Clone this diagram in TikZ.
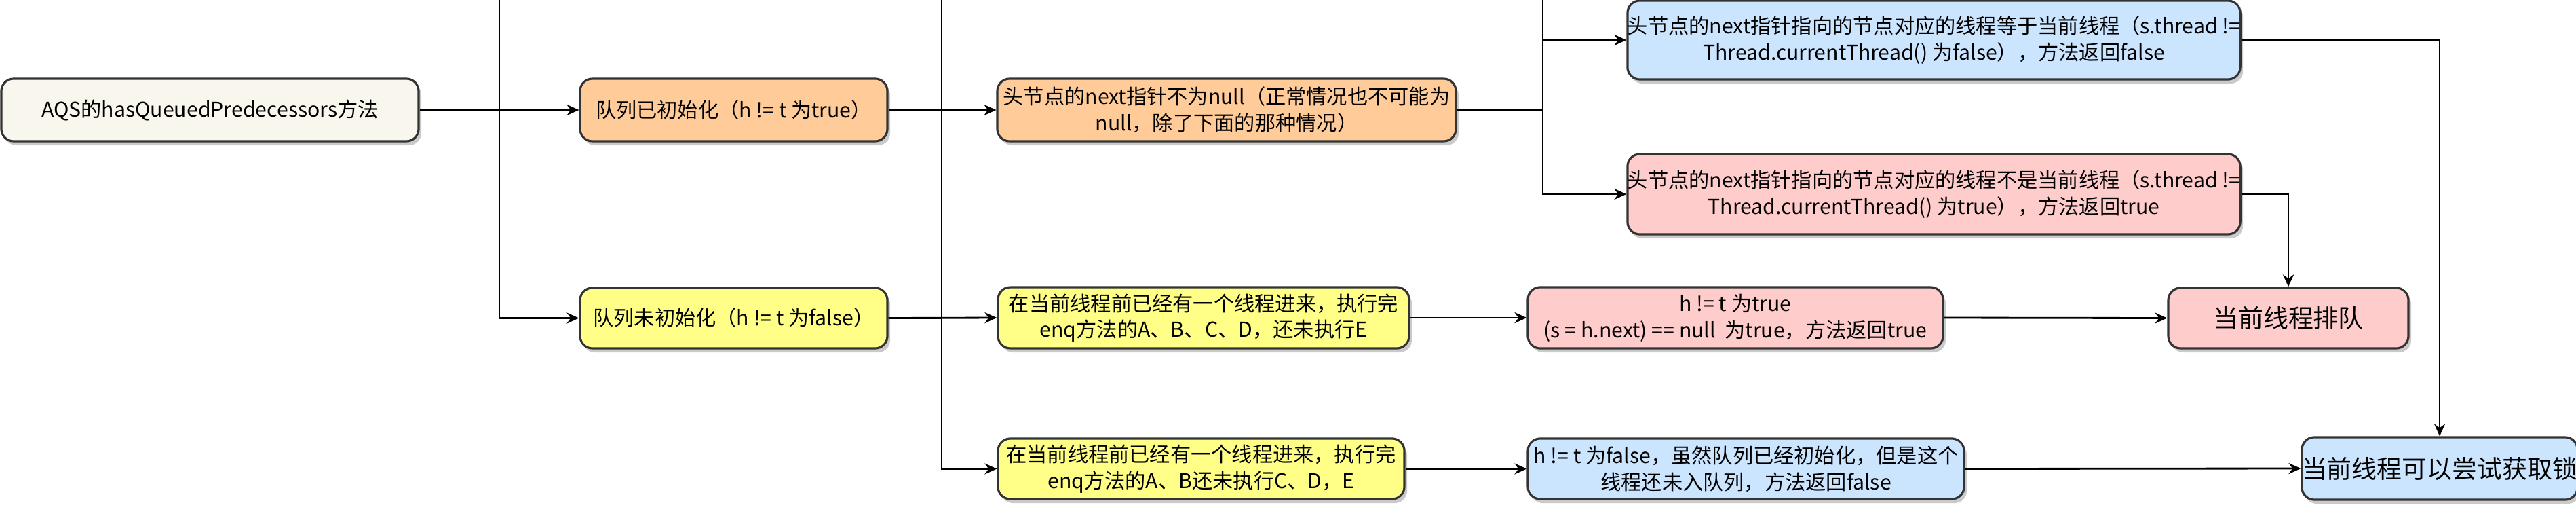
\documentclass[tikz,border=0pt]{standalone}
\usepackage{fontspec}
\setmainfont{Noto Sans CJK SC}
\usetikzlibrary{shadows,arrows.meta}
\definecolor{cream}{HTML}{F9F7ED}
\definecolor{orng}{HTML}{FFCC99}
\definecolor{yel}{HTML}{FFFF88}
\definecolor{blu}{HTML}{CCE5FF}
\definecolor{pnk}{HTML}{FFCCCC}
\tikzset{
  box/.style={draw=black!80, line width=0.9pt, rounded corners=0.18cm, align=center, inner sep=0pt,
    font=\fontsize{8.6pt}{11pt}\selectfont, drop shadow={shadow xshift=0.04cm, shadow yshift=-0.06cm, opacity=0.35, fill=black!60}},
  conn/.style={-{Stealth[length=0.18cm,width=0.16cm]}, line width=0.8pt, black}
}
\newcommand{\bx}[6]{\node[box, fill=#6, minimum width=#3cm-#1cm, minimum height=#4cm-#2cm] (#5) at ({(#1+#3)/2},{-(#2+#4)/2})}
\begin{document}
\begin{tikzpicture}[x=1cm,y=1cm]
\useasboundingbox (0,0) rectangle (37.97,-7.59);
\bx{0.02}{1.16}{6.17}{2.08}{aqs}{cream} {AQS的hasQueuedPredecessors方法};
\bx{8.55}{1.16}{13.08}{2.08}{init}{orng} {队列已初始化（h != t 为true）};
\bx{14.70}{1.16}{21.46}{2.08}{nn}{orng} {头节点的next指针不为null（正常情况也不可能为\\null，除了下面的那种情况）};
\bx{24.01}{0.01}{33.00}{1.17}{eq}{blu} {头节点的next指针指向的节点对应的线程等于当前线程（s.thread !=\\Thread.currentThread() 为false），方法返回false};
\bx{24.01}{2.27}{33.00}{3.45}{ne}{pnk} {头节点的next指针指向的节点对应的线程不是当前线程（s.thread !=\\Thread.currentThread() 为true），方法返回true};
\bx{8.55}{4.24}{13.08}{5.13}{uninit}{yel} {队列未初始化（h != t 为false）};
\bx{14.71}{4.23}{20.77}{5.13}{y1}{yel} {在当前线程前已经有一个线程进来，执行完\\enq方法的A、B、C、D，还未执行E};
\bx{14.71}{6.46}{20.70}{7.35}{y2}{yel} {在当前线程前已经有一个线程进来，执行完\\enq方法的A、B还未执行C、D，E};
\bx{22.52}{4.23}{28.64}{5.13}{p2}{pnk} {h != t 为true\\(s = h.next) == null\ \ 为true，方法返回true};
\bx{22.52}{6.46}{28.95}{7.35}{b2}{blu} {h != t 为false，虽然队列已经初始化，但是这个\\线程还未入队列，方法返回false};
\bx{31.96}{4.24}{35.50}{5.13}{queue}{pnk} {\fontsize{10.5pt}{12pt}\selectfont 当前线程排队};
\bx{34.19}{6.44}{37.73}{7.36}{lock}{blu} {\fontsize{10.5pt}{12pt}\selectfont 当前线程可以尝试获取锁};
\draw[conn] (aqs.east) -- (init.west);
\draw[conn] (aqs.east) -| (7.36,0) |- (uninit.west);
\draw[conn] (init.east) -- (nn.west);
\draw[conn] (nn.east) -| (22.74,0) |- (eq.west);
\draw[conn] (nn.east) -| (22.74,0) |- (ne.west);
\draw[conn] (eq.east) -| (lock.north);
\draw[conn] (ne.east) -| (queue.north);
\draw[conn] (uninit.east) -- (y1.west);
\draw[conn] (uninit.east) -| (13.88,0) |- (y2.west);
\draw[conn] (y1.east) -- (p2.west);
\draw[conn] (y2.east) -- (b2.west);
\draw[conn] (p2.east) -- (queue.west);
\draw[conn] (b2.east) -- (lock.west);
\end{tikzpicture}
\end{document}
